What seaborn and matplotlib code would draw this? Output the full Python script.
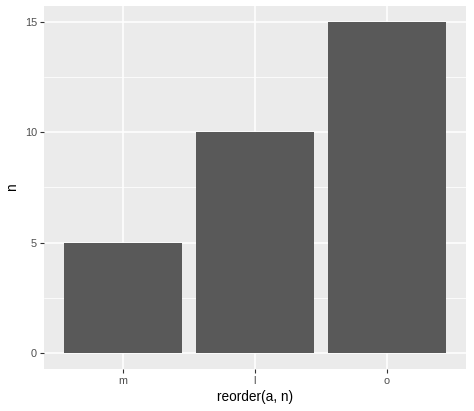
import numpy as np
import pandas as pd
import matplotlib
matplotlib.use('Agg')
import matplotlib.pyplot as plt
import seaborn as sns

# data
categories = ['m', 'l', 'o']
counts = [5, 10, 15]
y_ticks = [0, 5, 10, 15]
y_minor = [2.5, 7.5, 12.5]

df = pd.DataFrame({'a': categories, 'n': counts})

sns.set_theme(style='darkgrid')
plt.rcParams['font.family'] = ['Liberation Sans', 'DejaVu Sans']

fig = plt.figure(figsize=(4.74, 4.11), dpi=100)
ax = fig.add_axes([44 / 474, (411 - 369) / 411, 422 / 474, 363 / 411])
ax.set_facecolor('#EBEBEB')

sns.barplot(data=df, x='a', y='n', order=categories, color='#595959',
            saturation=1, width=0.9, ax=ax, zorder=3)
for p in ax.patches:
    p.set_edgecolor('none')

ax.set_xlim(-0.6, 2.6)
ax.set_ylim(-0.75, 15.75)
ax.set_yticks(y_ticks)
ax.set_yticks(y_minor, minor=True)

ax.grid(False)
ax.grid(True, which='major', color='white', linewidth=1.1, zorder=0)
ax.grid(True, which='minor', axis='y', color='white', linewidth=0.55, zorder=0)
ax.set_axisbelow(True)
for s in ax.spines.values():
    s.set_visible(False)

ax.tick_params(axis='both', which='major', length=3, width=0.8, color='#333333',
               labelcolor='#4D4D4D', labelsize=7.8, pad=2, bottom=True, left=True)
ax.tick_params(axis='y', which='minor', length=0)

ax.set_xlabel('reorder(a, n)', fontsize=9.8, color='black', labelpad=3)
ax.set_ylabel('n', fontsize=9.8, color='black', labelpad=4)

fig.savefig('out.png', dpi=100, facecolor='white')
